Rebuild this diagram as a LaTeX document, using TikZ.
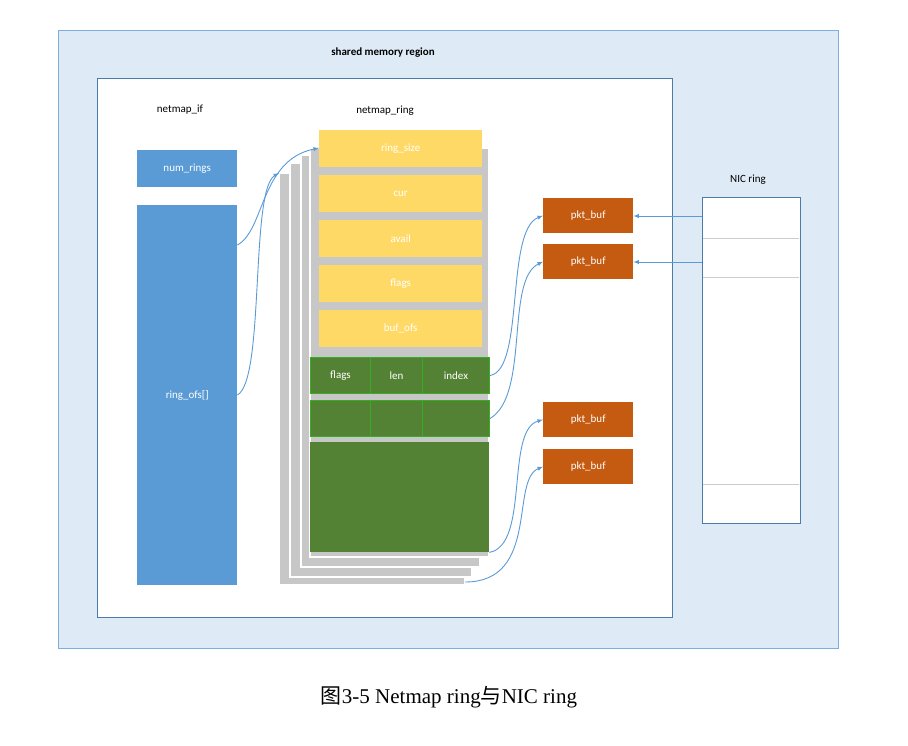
\documentclass[tikz,border=0pt]{standalone}
\usepackage{fontspec}
\setmainfont{Carlito}
\newfontfamily\capfont{Liberation Serif}
\newfontfamily\cjk{Noto Sans CJK SC}
\usepackage{tikz}
\definecolor{bgblue}{HTML}{DEEBF7}
\definecolor{edgeblue}{HTML}{5B9BD5}
\definecolor{linkblue}{HTML}{5B9BD5}
\definecolor{ifblue}{HTML}{5B9BD5}
\definecolor{yel}{HTML}{FFD966}
\definecolor{grn}{HTML}{548235}
\definecolor{org}{HTML}{C55A11}
\tikzset{
  box/.style={minimum width=#1, inner sep=0pt, anchor=north west, text=white, font=\fontsize{11}{13}\selectfont},
  ifbox/.style={box=100pt, fill=ifblue},
  ybox/.style={box=163pt, minimum height=37pt, fill=yel},
  gcell/.style={box=#1, minimum height=36pt, fill=grn, draw=green!35!grn, line width=1pt},
  pkt/.style={box=90pt, minimum height=35pt, fill=org},
  layer/.style={fill=black!22, draw=white, line width=2pt},
  link/.style={->, >=latex, draw=linkblue, line width=0.9pt},
  lbl/.style={font=\fontsize{11}{13}\selectfont}
}
\begin{document}
\begin{tikzpicture}[x=1pt, y=-1pt]
\useasboundingbox (0,0) rectangle (908,745);
\draw[fill=bgblue, draw=edgeblue!80, line width=1pt] (58,30) rectangle (838,648);
\draw[fill=white, draw=edgeblue!80!black, line width=1pt] (97,78) rectangle (672,617);
\node[lbl, font=\bfseries\fontsize{11}{13}\selectfont] (title) at (383,53) {shared memory region};
% netmap_if
\node[lbl] (iflbl) at (180,110) {netmap\_if};
\node[ifbox, minimum height=37pt] (numrings) at (137,150) {num\_rings};
\node[ifbox, minimum height=380pt] (ringofs) at (137,205) {ring\_ofs[]};
% stacked rings
\node[lbl] (ringlbl) at (385,111) {netmap\_ring};
\draw[layer] (279,173) rectangle (465,585) coordinate (l4);
\coordinate (l4top) at (279,173);
\draw[layer] (290,163) rectangle (472,577);
\draw[layer] (301,155) rectangle (480,567);
\draw[layer] (310,148) rectangle (489,557);
\node[ybox] (rsize) at (319,130) {ring\_size};
\node[ybox] (cur) at (319,175) {cur};
\node[ybox] (avail) at (319,220) {avail};
\node[ybox] (flags) at (319,265) {flags};
\node[ybox] (bufofs) at (319,310) {buf\_ofs};
\node[gcell=60pt] (sflags) at (310,357) {flags};
\node[gcell=52pt] (slen) at (370,357) {len};
\node[gcell=67pt] (sidx) at (422,357) {index};
\node[gcell=60pt] (aa) at (310,400) {};
\node[gcell=52pt] (ab) at (370,400) {};
\node[gcell=67pt] (ac) at (422,400) {};
\node[box=179pt, minimum height=110pt, fill=grn] (rest) at (310,442) {};
% packet buffers
\node[pkt] (p1) at (543,198) {pkt\_buf};
\node[pkt] (p2) at (543,244) {pkt\_buf};
\node[pkt] (p3) at (543,402) {pkt\_buf};
\node[pkt] (p4) at (543,449) {pkt\_buf};
% NIC ring
\node[lbl] (niclbl) at (748,180) {NIC ring};
\node[draw=edgeblue!80!black, fill=white, line width=1pt, minimum width=98pt, minimum height=326pt, anchor=north west, inner sep=0pt] (nic) at (702,197) {};
\draw[black!20, line width=1pt] (703,238) -- (799,238) (703,277) -- (799,277) (703,484) -- (799,484);
\coordinate (n1) at (702,216);
\coordinate (n2) at (702,262);
\draw[link] (n1) -- (p1.east |- n1);
\draw[link] (n2) -- (p2.east |- n2);
% links
\draw[link] (ringofs.east |- 0,245) .. controls (265,230) and (260,160) .. (rsize.north west |- 0,148);
\draw[link] (ringofs.east |- 0,395) .. controls (265,380) and (250,190) .. (l4top);
\draw[link] (sidx.east) .. controls (525,370) and (505,230) .. (p1.west);
\draw[link] (ac.east) .. controls (530,395) and (505,280) .. (p2.west);
\draw[link] (rest.south east) .. controls (530,545) and (505,430) .. (p3.west);
\draw[link] (465,582) .. controls (540,582) and (510,480) .. (p4.west);
\node[font=\capfont\fontsize{21}{25}\selectfont] (cap) at (449,697) {{\cjk 图}3-5 Netmap ring{\cjk 与}NIC ring};
\end{tikzpicture}
\end{document}
